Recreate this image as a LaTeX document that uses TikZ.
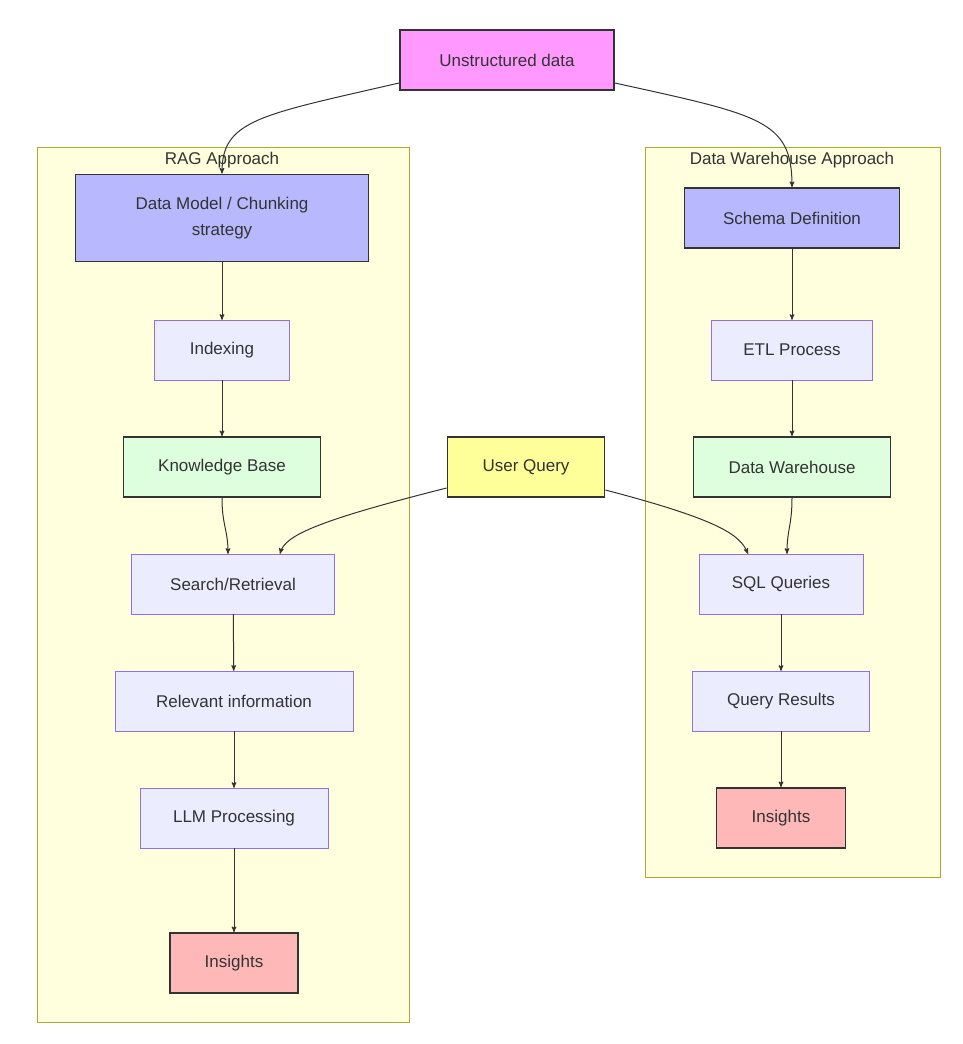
\documentclass[tikz,border=0pt]{standalone}
\usepackage{fontspec}
\setmainfont{Liberation Sans}
\usetikzlibrary{arrows,positioning}
\definecolor{clusterfill}{HTML}{FFFFDE}
\definecolor{clusterline}{HTML}{AAAA33}
\definecolor{procfill}{HTML}{ECECFF}
\definecolor{procline}{HTML}{9370DB}
\definecolor{srcfill}{HTML}{FF99FF}
\definecolor{modelfill}{HTML}{B8B8FF}
\definecolor{storefill}{HTML}{DDFFDD}
\definecolor{queryfill}{HTML}{FFFF99}
\definecolor{outfill}{HTML}{FFB8B8}
\definecolor{edgecol}{HTML}{333333}
\tikzset{
  box/.style={draw=procline,fill=procfill,minimum height=60pt,inner sep=0pt,font=\fontsize{17}{26}\selectfont,text=edgecol,align=center},
  keybox/.style={box,draw=edgecol,line width=1.8pt},
  cluster/.style={draw=clusterline,fill=clusterfill,line width=0.8pt},
  flow/.style={->,>=stealth',draw=edgecol,line width=1pt}
}
\begin{document}
\begin{tikzpicture}[x=1pt,y=-1pt]
\useasboundingbox[fill=white] (0,0) rectangle (962,1044);
% clusters
\draw[cluster] (37,147) rectangle (409,1022);
\node[font=\fontsize{17}{20}\selectfont,text=edgecol] (ragT) at (222,160) {RAG Approach};
\draw[cluster] (645,147) rectangle (940,877);
\node[font=\fontsize{17}{20}\selectfont,text=edgecol] (dwT) at (792,160) {Data Warehouse Approach};
% nodes
\node[keybox,fill=srcfill,minimum width=214pt] (src) at (507,60) {Unstructured data};
\node[keybox,fill=modelfill,minimum width=293pt,minimum height=87pt] (model) at (222,218) {Data Model / Chunking\\strategy};
\node[box,minimum width=135pt] (idx) at (222,350) {Indexing};
\node[keybox,fill=storefill,minimum width=197pt] (kb) at (222,467) {Knowledge Base};
\node[box,minimum width=203pt] (search) at (233,584) {Search/Retrieval};
\node[box,minimum width=238pt] (rel) at (234,701) {Relevant information};
\node[box,minimum width=188pt] (llm) at (234,818) {LLM Processing};
\node[keybox,fill=outfill,minimum width=128pt] (insL) at (234,963) {Insights};
\node[keybox,fill=modelfill,minimum width=215pt] (schema) at (792,218) {Schema Definition};
\node[box,minimum width=161pt] (etl) at (792,350) {ETL Process};
\node[keybox,fill=storefill,minimum width=197pt] (dw) at (792,467) {Data Warehouse};
\node[box,minimum width=164pt] (sql) at (781,584) {SQL Queries};
\node[box,minimum width=177pt] (res) at (781,701) {Query Results};
\node[keybox,fill=outfill,minimum width=129pt] (insR) at (781,818) {Insights};
\node[keybox,fill=queryfill,minimum width=157pt] (uq) at (526,467) {User Query};
% connectors
\draw[flow] (src.west |- 0,83) .. controls (260,115) and (222,120) .. (model.north);
\draw[flow] (src.east |- 0,83) .. controls (760,115) and (792,120) .. (schema.north);
\draw[flow] (model) -- (idx);
\draw[flow] (idx) -- (kb);
\draw[flow] (kb.south) .. controls (222,525) and (228,530) .. ([xshift=-5pt]search.north);
\draw[flow] (uq.west |- 0,488) .. controls (320,520) and (285,535) .. ([xshift=47pt]search.north);
\draw[flow] (search) -- (rel);
\draw[flow] (rel) -- (llm);
\draw[flow] (llm) -- (insL);
\draw[flow] (schema) -- (etl);
\draw[flow] (etl) -- (dw);
\draw[flow] (dw.south) .. controls (792,525) and (787,530) .. ([xshift=6pt]sql.north);
\draw[flow] (uq.east |- 0,490) .. controls (720,520) and (740,535) .. ([xshift=-33pt]sql.north);
\draw[flow] (sql) -- (res);
\draw[flow] (res) -- (insR);
\end{tikzpicture}
\end{document}
